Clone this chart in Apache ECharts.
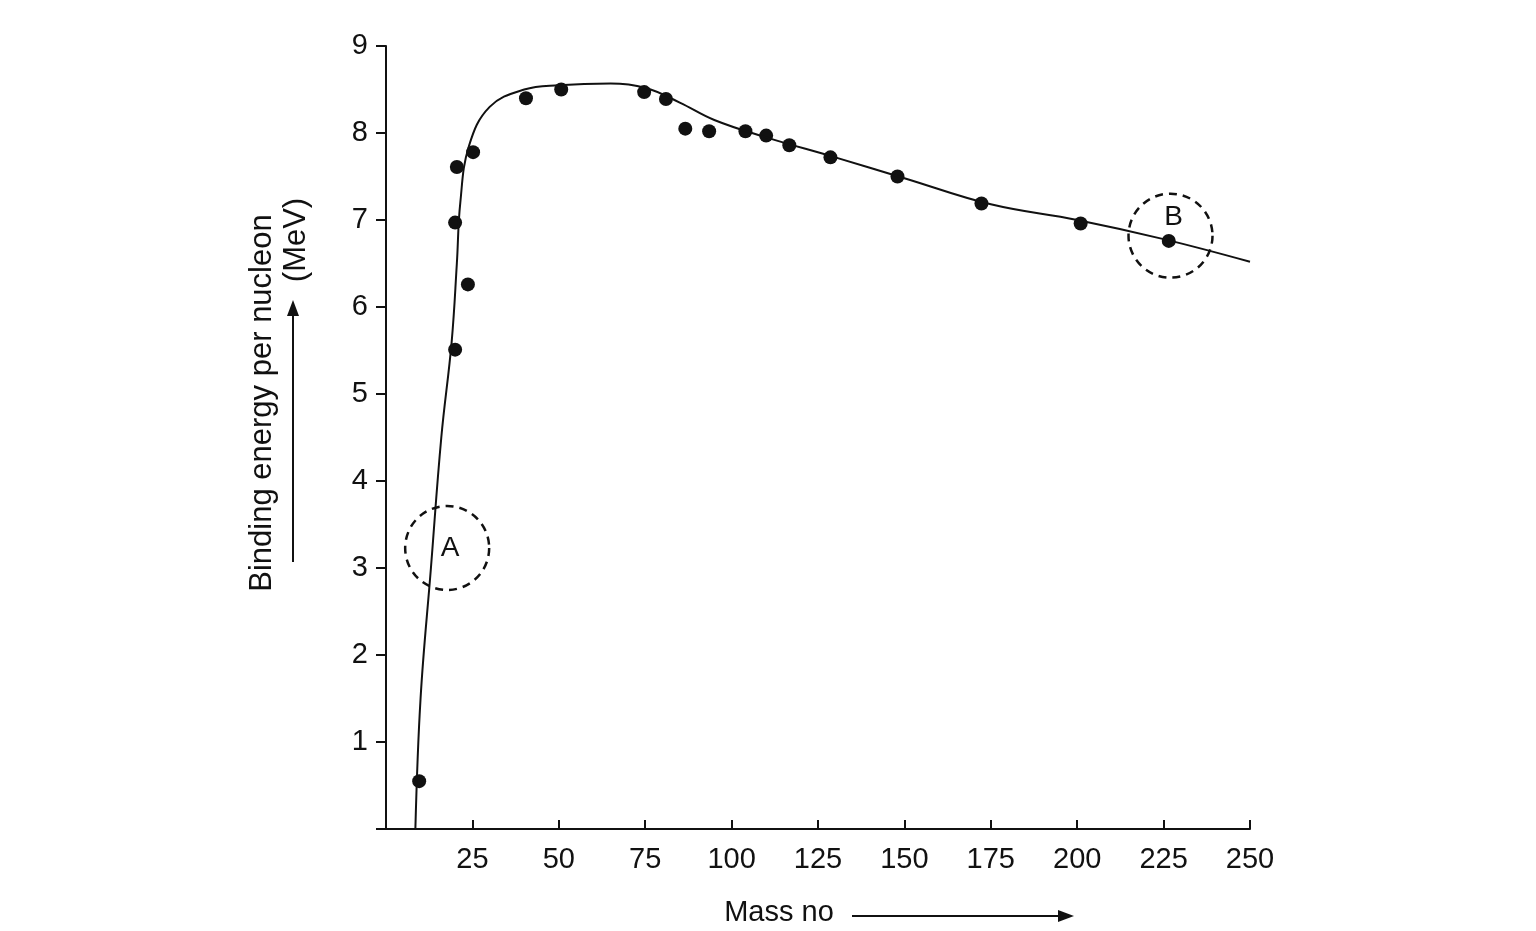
<!DOCTYPE html>
<html>
<head>
<meta charset="utf-8">
<script src="https://cdn.jsdelivr.net/npm/echarts@6/dist/echarts.min.js"></script>
<style>html,body{margin:0;background:#fff}#chart{width:1536px;height:931px}</style>
</head>
<body>
<div id="chart"></div>
<script>
// measured points
var pointX = [9.6, 20, 20, 20.5, 23.7, 25.2, 40.5, 50.7, 74.7, 81, 86.6, 93.5, 104, 110, 116.7, 128.6, 148, 172.3, 201, 226.5];
var pointY = [0.55, 5.51, 6.97, 7.61, 6.26, 7.78, 8.4, 8.5, 8.47, 8.39, 8.05, 8.02, 8.02, 7.97, 7.86, 7.72, 7.5, 7.19, 6.96, 6.76];

// fitted curve
var curveX = [8.5, 10, 13, 16, 19, 20.5, 21.5, 24, 30, 40, 50, 65, 75, 85, 95, 110, 130, 150, 175, 200, 225, 250];
var curveY = [0, 1.5, 3, 4.5, 5.6, 6.5, 7.2, 7.85, 8.3, 8.5, 8.55, 8.57, 8.52, 8.35, 8.15, 7.95, 7.72, 7.48, 7.18, 7.0, 6.78, 6.52];

var circleNames = ['A', 'B'];
var circleX = [17.7, 227];
var circleY = [3.23, 6.82];

var xTicks = [25, 50, 75, 100, 125, 150, 175, 200, 225, 250];

var chart = echarts.init(document.getElementById('chart'));
var font = 'Liberation Sans';
var labelOffsets = [[3, 0], [3, -18]];

var option = {
  animation: false,
  grid: { left: 386, right: 286, top: 46, bottom: 102 },
  xAxis: {
    type: 'value', min: 0, max: 250, interval: 25,
    splitLine: { show: false },
    axisLine: { lineStyle: { color: '#111', width: 2 } },
    axisTick: { inside: true, length: 9, lineStyle: { color: '#111', width: 2 } },
    axisLabel: {
      color: '#111', fontFamily: font, fontSize: 29, margin: 16,
      formatter: function (v) { return xTicks.indexOf(v) >= 0 ? v : ''; }
    }
  },
  yAxis: {
    type: 'value', min: 0, max: 9, interval: 1,
    splitLine: { show: false },
    axisLine: { lineStyle: { color: '#111', width: 2 } },
    axisTick: { length: 10, lineStyle: { color: '#111', width: 2 } },
    axisLabel: {
      color: '#111', fontFamily: font, fontSize: 29, margin: 18,
      formatter: function (v) { return v === 0 ? '' : v; }
    }
  },
  series: [
    {
      type: 'line', smooth: 0.4, symbol: 'none',
      lineStyle: { color: '#111', width: 2 },
      data: curveX.map(function (x, i) { return [x, curveY[i]]; })
    },
    {
      type: 'scatter', symbolSize: 14,
      itemStyle: { color: '#111', opacity: 1 },
      data: pointX.map(function (x, i) { return [x, pointY[i]]; })
    },
    {
      type: 'scatter', symbolSize: 84, z: 1,
      itemStyle: { color: 'rgba(0,0,0,0)', opacity: 1, borderColor: '#111', borderWidth: 2.5, borderType: [8, 6] },
      data: circleX.map(function (x, i) {
        return {
          value: [x, circleY[i]],
          label: {
            show: true, position: 'inside', offset: labelOffsets[i], color: '#111',
            fontFamily: font, fontSize: 28, formatter: circleNames[i]
          }
        };
      })
    }
  ],
  graphic: [
    {
      type: 'text', x: 262, y: 403, rotation: Math.PI / 2,
      style: { text: 'Binding energy per nucleon', fontFamily: font, fontSize: 31, fill: '#111', align: 'center', verticalAlign: 'middle' }
    },
    {
      type: 'text', x: 296, y: 240, rotation: Math.PI / 2,
      style: { text: '(MeV)', fontFamily: font, fontSize: 31, fill: '#111', align: 'center', verticalAlign: 'middle' }
    },
    { type: 'line', shape: { x1: 293, y1: 562, x2: 293, y2: 312 }, style: { stroke: '#111', lineWidth: 2 } },
    { type: 'polygon', shape: { points: [[293, 300], [287, 316], [299, 316]] }, style: { fill: '#111' } },
    {
      type: 'text', x: 779, y: 913,
      style: { text: 'Mass no', fontFamily: font, fontSize: 29, fill: '#111', align: 'center', verticalAlign: 'middle' }
    },
    { type: 'line', shape: { x1: 852, y1: 916, x2: 1064, y2: 916 }, style: { stroke: '#111', lineWidth: 2 } },
    { type: 'polygon', shape: { points: [[1074, 916], [1058, 910], [1058, 922]] }, style: { fill: '#111' } }
  ]
};
chart.setOption(option);
</script>
</body>
</html>
